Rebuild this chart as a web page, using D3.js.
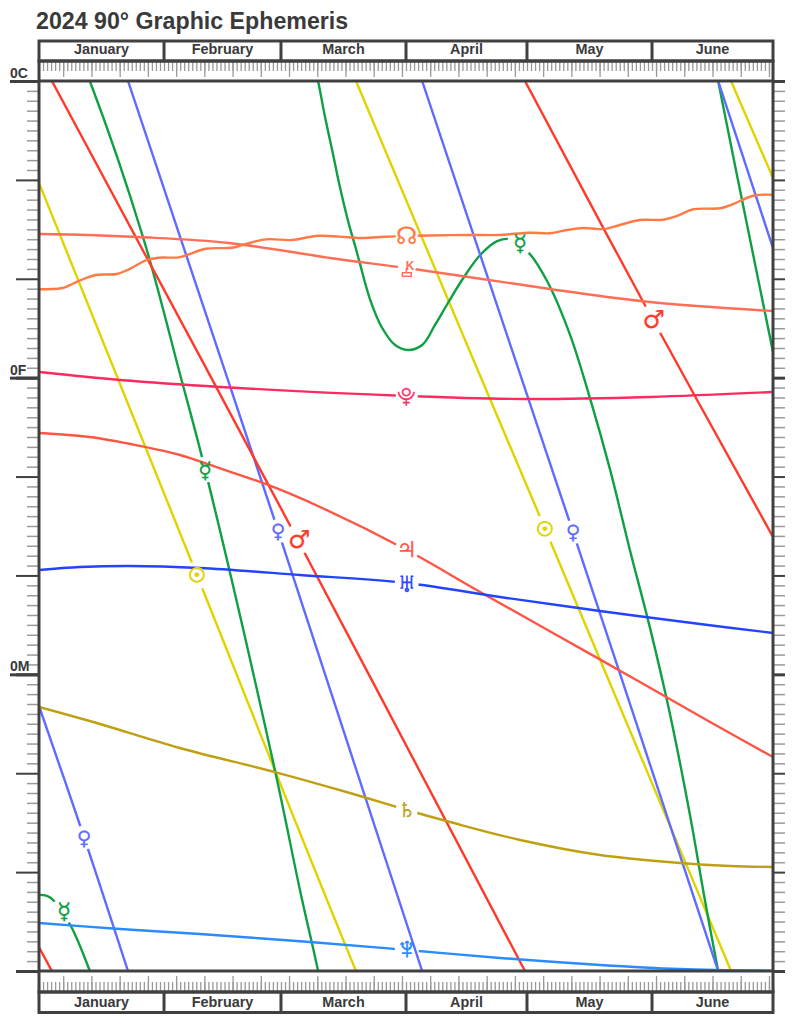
<!DOCTYPE html>
<html><head><meta charset="utf-8">
<script src="https://cdn.jsdelivr.net/npm/d3@7"></script>
<style>html,body{margin:0;padding:0;background:#fff}svg{display:block}text{font-family:"Liberation Sans",Arial,sans-serif}</style>
</head><body><svg id="c" width="804" height="1024"></svg>
<script>
const titleText = "2024 90° Graphic Ephemeris";
const months = ["January","February","March","April","May","June"];
const monthDays = [31,29,31,30,31,30];
const signLabels = [[0,"0C"],[30,"0F"],[60,"0M"]];

// [day of the half-year, longitude modulo-90 unwrapped in degrees]
const sun = [[0,10.3],[39.2,50],[78.6,90],[125.5,135.3],[171.6,180],[182,189.8]];
const mercury = [[0,82.3],[2,82.4],[3.7,82.9],[7.9,85.45],[12.6,90],[25.8,105.8],[35,119.7],[41.2,129.3],[58.5,159.7],[64.7,171.8],[69.2,180],[70.9,183.6],[72.7,187],[74.6,190.7],[76.6,194.1],[78.4,196.7],[79.6,198.5],[82.1,202.1],[85,204.9],[88.3,206.7],[91.5,207.2],[95,206.7],[98.2,204.67],[101.4,202.45],[105.1,200],[109.4,197.6],[113.6,196.2],[116.8,196],[121.5,197.4],[126.2,200.4],[131.7,205.7],[136.6,212.05],[141.6,219.3],[146.5,227.4],[151.5,235.3],[156.5,244.1],[161.4,254.2],[165.1,262.8],[168.4,270],[175.1,283.6],[182,297.4]];
const venus = [[0,63.2],[11.2,76.5],[22.07,90],[59.3,135.5],[95,180],[132.4,225.6],[168.4,270],[182,286.9]];
const mars = [[0,87.6],[3.2,90],[62.2,134.9],[120.5,180],[150.3,202.7],[182,226.1]];
const jupiter = [[0,35.59],[12.6,36],[25,36.9],[35,37.82],[42.4,38.83],[56.8,40.85],[69.7,43.08],[91.2,47.43],[109.4,51.68],[129.2,56.22],[149,60.77],[166.4,64.82],[182,68.36]];
const saturn = [[0,63.3],[15.1,65.02],[34.9,67.45],[58.5,69.88],[77.1,72],[91.2,73.72],[101.9,74.93],[119.3,76.75],[139.1,78.27],[158.9,79.08],[171.3,79.38],[182,79.48]];
const uranus = [[0,49.45],[10.2,49.15],[22.6,49.04],[39.9,49.25],[64.7,49.95],[91.2,50.76],[114.3,52.18],[139.1,53.59],[163.9,54.91],[182,55.82]];
const neptune = [[0,85.14],[20.1,85.75],[39.9,86.26],[67.2,87.07],[91.2,87.87],[114.3,88.68],[139.1,89.39],[158.9,89.8],[182,89.99]];
const pluto = [[0,29.43],[20.1,30.24],[44.9,30.94],[91.2,31.85],[120.5,32.16],[151.5,31.95],[182,31.45]];
const chiron = [[0,15.47],[12.4,15.57],[24.5,15.78],[47.1,16.38],[74.4,18.03],[91.2,18.91],[126.7,21.03],[151.5,22.35],[182,23.26]];
const node = [[0,21.06],[5.5,20.96],[7.4,20.7],[9.9,20.22],[14.1,19.62],[19.3,19.52],[22.3,19.04],[26.8,18.1],[29.7,17.87],[34.7,17.83],[37.2,17.52],[41.4,16.96],[47.9,16.86],[51.3,16.48],[56.3,16.01],[62.7,16.08],[68.7,15.67],[74.4,15.74],[79.6,15.88],[84.6,15.77],[91.2,15.67],[97,15.62],[106.9,15.57],[114.3,15.57],[121.7,15.34],[126.7,15.4],[130.9,15.07],[134.9,14.86],[139.9,14.97],[144,14.56],[149,14.06],[154.7,14.03],[158.2,13.65],[162.2,12.97],[168.9,12.87],[172.1,12.44],[177.1,11.6],[182,11.5]];

const bodies = [
 {id:"sun",values:sun,color:"#e0d400",glyph:"\u2609",font:"Liberation Sans",size:20,dy:7,sw:1,gap:14,at:[[39.2,50],[125.5,45.3]]},
 {id:"mercury",values:mercury,color:"#0fa044",glyph:"\u263F",font:"DejaVu Sans",size:23,dy:8,sw:.3,gap:13,at:[[6.2,83.9],[41.2,39.3],[119.3,16.4]]},
 {id:"venus",values:venus,color:"#5f6cff",glyph:"\u2640",font:"DejaVu Sans",size:20,dy:7,sw:.2,gap:12,at:[[11.2,76.5],[59.3,45.5],[132.4,45.6]]},
 {id:"mars",values:mars,color:"#ff3a2a",glyph:"\u2642",font:"DejaVu Sans",size:25,dy:9,sw:.2,gap:15,at:[[64.5,46.3],[152.4,24.1]]},
 {id:"jupiter",values:jupiter,color:"#ff5544",glyph:"\u2643",font:"Liberation Sans",size:30,dy:8,sw:.6,gap:12,at:[[91.2,47.4]]},
 {id:"saturn",values:saturn,color:"#bfa012",glyph:"\u2644",font:"Liberation Sans",size:27,dy:8,sw:.6,gap:11,at:[[91.2,73.7]]},
 {id:"uranus",values:uranus,color:"#2244ff",glyph:"\u2645",font:"Liberation Sans",size:27,dy:10,sw:.6,gap:12,at:[[91.2,50.7]]},
 {id:"neptune",values:neptune,color:"#2a8cff",glyph:"\u2646",font:"Liberation Sans",size:32,dy:10,sw:.6,gap:12,at:[[91.2,87.8]]},
 {id:"pluto",values:pluto,color:"#ff2a5f",glyph:"\u2BD3",font:"DejaVu Sans",size:19,dy:8,sw:.2,gap:11,at:[[91.2,31.8]]},
 {id:"chiron",values:chiron,color:"#ff6e55",glyph:"",gap:9,at:[[91.2,18.9]]},
 {id:"node",values:node,color:"#ff7a45",glyph:"\u260A",font:"Liberation Sans",size:24,dy:8,sw:.2,gap:11,at:[[91.2,15.7]]}
];

const L=39,R=773,T=81,B=971, INK="#404040", GREY="#9a9a9a";
const svg=d3.select("#c");
const x=d3.scaleLinear().domain([0,182]).range([L,R]);
const y=d3.scaleLinear().domain([0,90]).range([T,B]);

svg.append("text").attr("x",36).attr("y",29).attr("font-size",23.2).attr("font-weight","bold").attr("fill","#3a3a3a").text(titleText);

const clip=svg.append("defs");
clip.append("clipPath").attr("id","plot").append("rect").attr("x",L).attr("y",T).attr("width",R-L).attr("height",B-T);

const line=d3.line().x(d=>x(d[0])).y(d=>y(d[1])).curve(d3.curveCatmullRom.alpha(0.5));
const plot=svg.append("g").attr("clip-path","url(#plot)");
bodies.forEach(b=>{
  const mask=clip.append("mask").attr("id","m-"+b.id).attr("maskUnits","userSpaceOnUse")
    .attr("x",0).attr("y",0).attr("width",804).attr("height",1024);
  mask.append("rect").attr("width",804).attr("height",1024).attr("fill","#fff");
  mask.selectAll("circle").data(b.at).join("circle").attr("cx",d=>x(d[0])).attr("cy",d=>y(d[1])).attr("r",b.gap).attr("fill","#000");
  const g=plot.append("g").attr("mask",`url(#m-${b.id})`);
  const maxDeg=d3.max(b.values,d=>d[1]);
  g.selectAll("path").data(d3.range(0,Math.ceil(maxDeg/90)+1)).join("path")
    .attr("d",k=>line(b.values.map(d=>[d[0],d[1]-k*90])))
    .attr("fill","none").attr("stroke",b.color).attr("stroke-width",2.4);
});
bodies.filter(b=>b.glyph).forEach(b=>{
  svg.append("g").selectAll("text").data(b.at).join("text")
    .attr("x",d=>x(d[0])).attr("y",d=>y(d[1])+b.dy).attr("text-anchor","middle")
    .style("font-family",`'${b.font}'`).attr("font-size",b.size).attr("fill",b.color)
    .attr("stroke",b.color).attr("stroke-width",b.sw).text(b.glyph+"\uFE0E");
});
// Chiron: K on a small box
const ch=bodies.find(b=>b.id==="chiron");
const chG=svg.append("g").attr("transform",`translate(${x(ch.at[0][0])},${y(ch.at[0][1])})`).attr("stroke",ch.color).attr("fill","none").attr("stroke-width",1.4);
chG.append("text").attr("x",-1).attr("y",2).attr("font-size",12).attr("font-weight","bold").attr("fill",ch.color).attr("stroke","none").text("K");
chG.append("line").attr("x1",-.5).attr("x2",-.5).attr("y1",0).attr("y2",5);
chG.append("rect").attr("x",-4.5).attr("y",4.8).attr("width",9).attr("height",3.6);

// day and week ticks
const allDays=d3.range(0,183), weeks=d3.range(6,183,7);
function tickStrip(y0,dir,minor,major){
  const g=svg.append("g");
  g.append("g").attr("transform",`translate(0,${y0})`).call(dir(x).tickValues(allDays).tickSize(minor).tickFormat("").tickSizeOuter(0))
    .call(s=>s.select(".domain").remove()).selectAll("line").attr("stroke",GREY).attr("stroke-width",1.3);
  g.append("g").attr("transform",`translate(0,${y0})`).call(dir(x).tickValues(weeks).tickSize(major).tickFormat("").tickSizeOuter(0))
    .call(s=>s.select(".domain").remove()).selectAll("line").attr("stroke",GREY).attr("stroke-width",1.3);
}
tickStrip(61,d3.axisBottom,10,16);
tickStrip(992,d3.axisTop,10,16);

// degree ticks
const minorDeg=d3.range(1,90).filter(d=>d%10), majorDeg=d3.range(0,91,10);
[[L,d3.axisLeft],[R,d3.axisRight]].forEach(([px,ax])=>{
  svg.append("g").attr("transform",`translate(${px},0)`).call(ax(y).tickValues(minorDeg).tickSize(12).tickFormat("").tickSizeOuter(0))
   .call(s=>s.select(".domain").remove()).selectAll("line").attr("stroke",GREY).attr("stroke-width",1.5);
  svg.append("g").attr("transform",`translate(${px},0)`).call(ax(y).tickValues(majorDeg).tickSize(px===L?23:12).tickFormat("").tickSizeOuter(0))
   .call(s=>s.select(".domain").remove()).selectAll("line").attr("stroke",INK).attr("stroke-width",d=>d%30?2:3);
});
svg.append("g").attr("transform",`translate(${L},0)`).call(d3.axisLeft(y).tickValues(signLabels.map(d=>d[0])).tickSize(29).tickFormat("").tickSizeOuter(0))
   .call(s=>s.select(".domain").remove()).selectAll("line").attr("stroke",INK).attr("stroke-width",3);
svg.append("g").selectAll("text").data(signLabels).join("text").attr("x",10).attr("y",d=>y(d[0])-3)
  .attr("font-size",14).attr("font-weight","bold").attr("fill","#3a3a3a").text(d=>d[1]);

// frames and months
const edges=d3.cumsum([0,...monthDays]);
function band(y0,y1,tx){
  svg.append("rect").attr("x",L).attr("y",y0).attr("width",R-L).attr("height",y1-y0).attr("fill","none").attr("stroke",INK).attr("stroke-width",3);
  svg.append("g").selectAll("line").data(edges.slice(1,-1)).join("line").attr("x1",d=>x(d)).attr("x2",d=>x(d)).attr("y1",y0).attr("y2",y1).attr("stroke",INK).attr("stroke-width",3);
  svg.append("g").selectAll("text").data(months).join("text").attr("x",(d,i)=>x((edges[i]+edges[i+1])/2)).attr("y",tx)
    .attr("text-anchor","middle").attr("font-size",14.4).attr("font-weight","bold").attr("fill","#3a3a3a").text(d=>d);
}
band(41,61,54); band(992,1012.5,1007);
svg.append("rect").attr("x",L).attr("y",61).attr("width",R-L).attr("height",B-61+21).attr("fill","none").attr("stroke",INK).attr("stroke-width",3);
svg.append("line").attr("x1",L).attr("x2",R).attr("y1",T).attr("y2",T).attr("stroke",INK).attr("stroke-width",3);
svg.append("line").attr("x1",L).attr("x2",R).attr("y1",B).attr("y2",B).attr("stroke",INK).attr("stroke-width",3);
</script></body></html>
